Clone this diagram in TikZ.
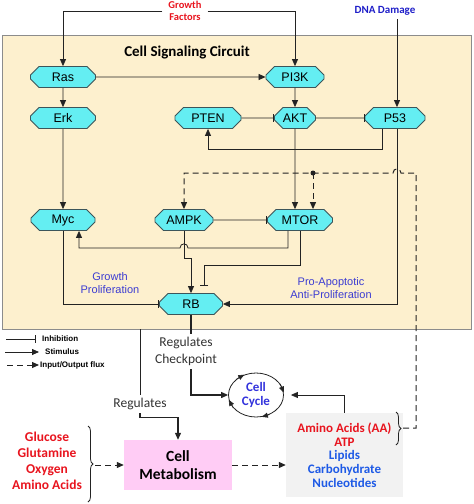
\documentclass[tikz,border=0pt]{standalone}
\usepackage{fontspec}
\setmainfont{Liberation Sans}
\newfontfamily\calfont{Carlito}
\usetikzlibrary{arrows.meta,shapes.misc,shapes.geometric,decorations.pathreplacing}
\definecolor{panelbg}{RGB}{253,240,206}
\definecolor{protfill}{RGB}{100,238,242}
\definecolor{protedge}{RGB}{60,85,90}
\definecolor{gfred}{RGB}{232,20,30}
\definecolor{dnablue}{RGB}{30,30,200}
\definecolor{labblue}{RGB}{60,60,210}
\definecolor{cycblue}{RGB}{50,50,220}
\definecolor{listblue}{RGB}{30,90,230}
\definecolor{metpink}{RGB}{255,204,245}
\definecolor{aagray}{RGB}{242,242,242}
\definecolor{wire}{RGB}{35,35,35}
\begin{document}
\begin{tikzpicture}[x=1pt,y=-1pt,
    prot/.style={chamfered rectangle, chamfered rectangle xsep=5pt, draw=protedge, fill=protfill,
      line width=0.8pt, minimum height=21pt, inner sep=1pt, font=\fontsize{12.5}{14}\selectfont},
    stim/.style={draw=wire, line width=0.8pt, -{Triangle[length=7pt,width=6pt]}},
    inh/.style={draw=wire, line width=0.8pt, -{Bar[width=8pt]}},
    flux/.style={draw=wire, line width=1pt, dash pattern=on 6pt off 4pt, -{Triangle[length=7pt,width=6pt]}},
    link/.style={draw=wire, line width=0.8pt},
    note/.style={align=center, text=labblue, font=\fontsize{11}{13}\selectfont},
    legend/.style={anchor=west, inner sep=1pt, font=\bfseries\fontsize{8}{9}\selectfont},
    brc/.style={decorate, decoration={brace, amplitude=5pt}, line width=0.8pt, draw=wire}]
  \useasboundingbox (0,0) rectangle (474,504);
  \node[draw=black!45, fill=panelbg, minimum width=469pt, minimum height=294pt, inner sep=0pt,
    line width=0.8pt] (circuit) at (236.5,182) {};
  \node[font=\calfont\bfseries\fontsize{15}{18}\selectfont] (title) at (187,53) {Cell Signaling Circuit};
  \node[align=center, text=gfred, inner xsep=6pt, font=\calfont\bfseries\fontsize{10.5}{12}\selectfont] (gf) at (185,11) {Growth\\Factors};
  \node[text=dnablue, font=\calfont\bfseries\fontsize{11}{13}\selectfont] (dna) at (385,11) {DNA Damage};

  \node[prot, minimum width=65pt] (ras) at (63,77) {Ras};
  \node[prot, minimum width=58pt] (pik) at (295,77) {PI3K};
  \node[prot, minimum width=65pt] (erk) at (63,118) {Erk};
  \node[prot, minimum width=66pt] (pten) at (208,118) {PTEN};
  \node[prot, minimum width=41pt] (akt) at (295,118) {AKT};
  \node[prot, minimum width=60pt] (p53) at (395,118) {P53};
  \node[prot, minimum width=64pt] (myc) at (63,220) {Myc};
  \node[prot, minimum width=58pt] (ampk) at (184,220) {AMPK};
  \node[prot, minimum width=65pt] (mtor) at (300,220) {MTOR};
  \node[prot, minimum width=63pt] (rb) at (191,304) {RB};

  \draw[stim] (gf.west) -| (ras.north);
  \draw[stim] (gf.east) -| (pik.north);
  \draw[stim] ([xshift=12pt]dna.south) -- ([xshift=2pt]p53.north);
  \draw[stim] (ras) -- (pik);
  \draw[stim] (ras) -- (erk);
  \draw[stim] (pik) -- (akt);
  \draw[inh] (pten) -- (akt);
  \draw[inh] (akt) -- (p53);
  \draw[stim] ([xshift=-13pt]p53.south) -- ++(0,20) -| (pten.south);
  \draw[stim] (akt) -- (akt |- mtor.north);
  \draw[stim] (erk) -- (myc);
  \draw[inh] (ampk) -- (mtor);
  \draw[stim] ([xshift=-12pt]mtor.south) |- (188,248) .. controls (188,242.5) and (180,242.5) .. (180,248)
    -| ([xshift=16pt]myc.south);
  \draw[stim] (ampk.south) -- ++(0,27.5) -| (rb.north);
  \draw[inh, shorten >=7pt] (mtor.south) -- ++(0,34.5) -| ([xshift=13pt]rb.north);
  \draw[inh] (myc.south) |- (rb.west);
  \draw[stim] ([xshift=2pt]p53.south) |- (rb.east);
  \node[note] (growth) at (110,283.5) {Growth\\Proliferation};
  \node[note] (apop) at (331,288.5) {Pro-Apoptotic\\Anti-Proliferation};

  \node[fill=metpink, minimum width=108pt, minimum height=50pt, align=center,
    font=\calfont\bfseries\fontsize{15.5}{18}\selectfont] (met) at (178,465) {Cell\\Metabolism};
  \node[align=center, text=gfred, font=\calfont\bfseries\fontsize{13.5}{16}\selectfont] (inp) at (47,461)
    {Glucose\\Glutamine\\Oxygen\\Amino Acids};
  \node[fill=aagray, minimum width=117pt, minimum height=84pt, align=center, text=listblue,
    font=\calfont\bfseries\fontsize{13}{13.7}\selectfont] (aa) at (344.5,455)
    {\textcolor{gfred}{Amino Acids (AA)}\\\textcolor{gfred}{ATP}\\Lipids\\Carbohydrate\\Nucleotides};
  \node[ellipse, draw=wire, line width=0.8pt, minimum width=55pt, minimum height=44pt, inner sep=0pt,
    align=center, text=cycblue, font=\calfont\bfseries\fontsize{13}{14}\selectfont] (cyc) at (256,395) {Cell\\Cycle};
  \node[align=center, text=black!80, font=\calfont\fontsize{13.5}{17}\selectfont] (chk) at (186,351.5) {Regulates\\Checkpoint};
  \node[text=black!80, font=\calfont\fontsize{13.5}{16}\selectfont] (reg) at (140,404) {Regulates};

  \draw[brc] (88,426) -- (88,502);
  \draw[brc] (396,412) -- (396,445);
  \coordinate (inptip) at (95,465);
  \coordinate (aatip) at (403,428);
  \coordinate (split) at (313,173);

  \draw[flux] (aatip) -| (416,173) -- (401,173) .. controls (401,167.5) and (393,167.5) .. (393,173) -| (ampk.north);
  \fill[wire] (split) circle[radius=2.5pt];
  \draw[flux] (split) -- (split |- mtor.north);
  \draw[flux] (inptip) -- (met.west);
  \draw[flux] (met.east) -- (aa.west |- met.east);

  \draw[link, line width=1.1pt] (rb.south) -- (rb.south |- chk.north);
  \draw[stim, line width=1.1pt] (rb.south |- chk.south) |- (cyc.west);
  \draw[link] (circuit.south -| reg) -- (reg.north);
  \draw[stim, line width=1.1pt] (reg.south) -- ++(0,4) -| (met.north);
  \draw[stim, shorten >=7pt] (aa.north) |- (cyc.east);
  \draw[-{Triangle[length=6pt,width=5pt]}, wire, line width=0.6pt] (cyc.140) -- (cyc.120);
  \draw[-{Triangle[length=6pt,width=5pt]}, wire, line width=0.6pt] (cyc.25) -- (cyc.5);
  \draw[-{Triangle[length=6pt,width=5pt]}, wire, line width=0.6pt] (cyc.-55) -- (cyc.-75);
  \draw[-{Triangle[length=6pt,width=5pt]}, wire, line width=0.6pt] (cyc.-150) -- (cyc.-170);

  \node[legend] (leginh) at (41,339) {Inhibition};
  \node[legend] (legstim) at (44,352) {Stimulus};
  \node[legend] (legflux) at (39,365) {Input/Output flux};
  \draw[inh, line width=1pt] ([xshift=-35pt]leginh.west) -- ([xshift=-5pt]leginh.west);
  \draw[stim] ([xshift=-39pt]legstim.west) -- ([xshift=-5pt]legstim.west);
  \draw[flux] ([xshift=-32pt]legflux.west) -- (legflux.west);
\end{tikzpicture}
\end{document}
